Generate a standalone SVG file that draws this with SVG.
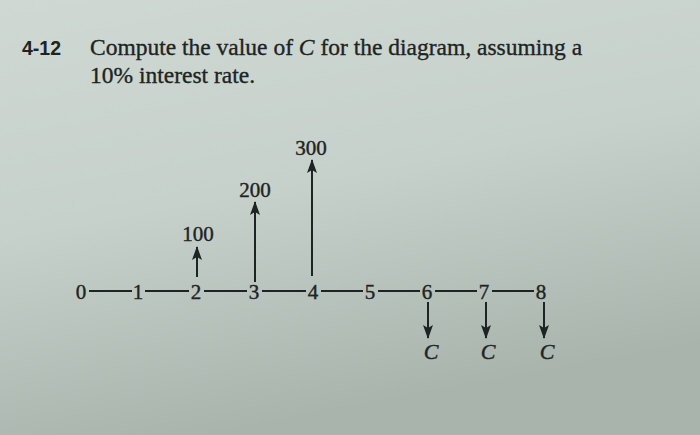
<svg xmlns="http://www.w3.org/2000/svg" width="700" height="435" viewBox="0 0 700 435">
<defs>
<linearGradient id="bg" x1="0" y1="0" x2="0.3" y2="1">
<stop offset="0" stop-color="#cfd8d2"/>
<stop offset="0.5" stop-color="#c7d1cb"/>
<stop offset="1" stop-color="#a9b4ad"/>
</linearGradient>
<marker id="ah" markerUnits="userSpaceOnUse" markerWidth="14" markerHeight="10" refX="13" refY="5" orient="auto" viewBox="0 0 14 10">
<path d="M14,5 L0,0 L3,5 L0,10 Z" fill="#1e2424"/>
</marker>
<style>
.t{font-family:"Liberation Serif","Times New Roman",serif;fill:#1e2424;stroke:#1e2424;stroke-width:0.35}
.h{font-family:"Liberation Sans",Arial,sans-serif;font-weight:bold;fill:#1e2424}
.n{font-family:"Liberation Serif","Times New Roman",serif;font-size:21px;fill:#1e2424;stroke:#1e2424;stroke-width:0.4;text-anchor:middle}
.c{font-family:"Liberation Serif","Times New Roman",serif;font-size:22px;font-style:italic;fill:#1e2424;stroke:#1e2424;stroke-width:0.4;text-anchor:middle}
.ln{stroke:#1e2424;stroke-width:2;fill:none}
.ar{stroke:#1e2424;stroke-width:2;fill:none;marker-end:url(#ah)}
</style>
</defs>
<rect width="700" height="435" fill="url(#bg)"/>
<g id="title">
<text class="h" x="22" y="55" font-size="19.5">4-12</text>
<text class="t" x="90" y="55" font-size="23.5">Compute the value of <tspan font-style="italic">C</tspan> for the diagram, assuming a</text>
<text class="t" x="90" y="83" font-size="23.5">10% interest rate.</text>
</g>
<g id="connectors">
<line class="ln" x1="89" y1="291" x2="132" y2="291"/>
<line class="ln" x1="145" y1="291" x2="189" y2="291"/>
<line class="ln" x1="204" y1="291" x2="247" y2="291"/>
<line class="ln" x1="262" y1="291" x2="306" y2="291"/>
<line class="ln" x1="321" y1="291" x2="363" y2="291"/>
<line class="ln" x1="378" y1="291" x2="420" y2="291"/>
<line class="ln" x1="435" y1="291" x2="477" y2="291"/>
<line class="ln" x1="492" y1="291" x2="534" y2="291"/>
<line class="ar" x1="197" y1="277" x2="197" y2="247"/>
<line class="ar" x1="255" y1="282" x2="255" y2="202"/>
<line class="ar" x1="312" y1="276" x2="312" y2="160"/>
<line class="ar" x1="428" y1="302" x2="428" y2="338"/>
<line class="ar" x1="486" y1="302" x2="486" y2="338"/>
<line class="ar" x1="544" y1="302" x2="544" y2="338"/>
</g>
<g id="t0"><text class="n" x="81" y="299">0</text></g>
<g id="t1"><text class="n" x="138" y="299">1</text></g>
<g id="t2"><text class="n" x="196" y="299">2</text></g>
<g id="t3"><text class="n" x="254" y="299">3</text></g>
<g id="t4"><text class="n" x="313" y="299">4</text></g>
<g id="t5"><text class="n" x="370" y="299">5</text></g>
<g id="t6"><text class="n" x="427" y="299">6</text></g>
<g id="t7"><text class="n" x="484" y="299">7</text></g>
<g id="t8"><text class="n" x="541" y="299">8</text></g>
<g id="v100"><text class="n" x="198" y="241">100</text></g>
<g id="v200"><text class="n" x="255" y="197">200</text></g>
<g id="v300"><text class="n" x="311" y="155">300</text></g>
<g id="c6"><text class="c" x="431" y="359">C</text></g>
<g id="c7"><text class="c" x="488" y="359">C</text></g>
<g id="c8"><text class="c" x="547" y="359">C</text></g>
</svg>
